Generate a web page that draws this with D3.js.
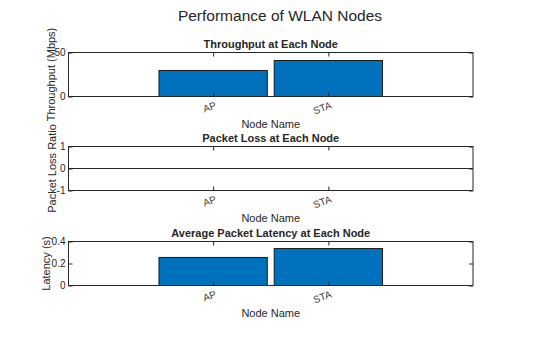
<!DOCTYPE html>
<html>
<head>
<meta charset="utf-8">
<script src="https://cdn.jsdelivr.net/npm/d3@7"></script>
<style>
  html, body { margin: 0; padding: 0; background: #fff; }
  svg { display: block; font-family: "Liberation Sans", Arial, Helvetica, sans-serif; }
</style>
</head>
<body>
<svg id="chart" width="560" height="337"></svg>
<script>
// Node names and per-node measurements
const nodes = ["AP", "STA"];
const throughput = [29.6, 40.9];     // Mbps
const packetLoss = [0, 0];           // ratio
const latency = [0.255, 0.336];      // seconds

const throughputTicks = [0, 50];
const packetLossTicks = [-1, 0, 1];
const latencyTicks = [0, 0.2, 0.4];

const svg = d3.select("#chart");
const axisColor = "#262626";
const barColor = "#0072BD";

const left = 68.5, right = 473;
// categorical positions 1..n on a numeric axis
const x = d3.scaleLinear().domain([-0.255, 3.255]).range([left, right]);
const barW = 0.94;

svg.append("text")
  .attr("x", 280).attr("y", 21)
  .attr("text-anchor", "middle")
  .attr("font-size", 15.5).attr("fill", axisColor)
  .text("Performance of WLAN Nodes");

function panel(opts) {
  const { top, bottom, domain, ticks, values, title, ylabel, ylabelX, fmt } = opts;
  const g = svg.append("g");
  const y = d3.scaleLinear().domain(domain).range([bottom, top]);

  // bars
  g.selectAll("rect.bar").data(values).join("rect")
    .attr("class", "bar")
    .attr("x", (d, i) => x(i + 1 - barW / 2))
    .attr("width", (d, i) => x(i + 1 + barW / 2) - x(i + 1 - barW / 2))
    .attr("y", d => Math.min(y(d), y(0)))
    .attr("height", d => Math.abs(y(0) - y(d)))
    .attr("fill", barColor)
    .attr("stroke", "#1a1a1a").attr("stroke-width", 1);

  // baseline
  g.append("line")
    .attr("x1", left).attr("x2", right)
    .attr("y1", y(0)).attr("y2", y(0))
    .attr("stroke", axisColor).attr("stroke-width", 1);

  // box
  g.append("rect")
    .attr("x", left).attr("y", top)
    .attr("width", right - left).attr("height", bottom - top)
    .attr("fill", "none").attr("stroke", axisColor).attr("stroke-width", 1);

  // y axis (ticks inward) on both sides
  const yl = g.append("g").attr("transform", `translate(${left},0)`)
    .call(d3.axisRight(y).tickValues(ticks).tickSize(4).tickFormat(""));
  const yr = g.append("g").attr("transform", `translate(${right},0)`)
    .call(d3.axisLeft(y).tickValues(ticks).tickSize(4).tickFormat(""));
  [yl, yr].forEach(a => {
    a.select(".domain").remove();
    a.selectAll("line").attr("stroke", axisColor);
  });
  g.selectAll("text.yt").data(ticks).join("text")
    .attr("class", "yt")
    .attr("x", left - 3).attr("y", d => y(d) + 3.5)
    .attr("text-anchor", "end").attr("font-size", 10).attr("fill", axisColor)
    .text(fmt);

  // x axis ticks inward top and bottom
  const cats = nodes.map((n, i) => i + 1);
  const xb = g.append("g").attr("transform", `translate(0,${bottom})`)
    .call(d3.axisTop(x).tickValues(cats).tickSize(4).tickFormat(""));
  const xt = g.append("g").attr("transform", `translate(0,${top})`)
    .call(d3.axisBottom(x).tickValues(cats).tickSize(4).tickFormat(""));
  [xb, xt].forEach(a => {
    a.select(".domain").remove();
    a.selectAll("line").attr("stroke", axisColor);
  });

  // rotated category labels
  g.selectAll("text.xt").data(nodes).join("text")
    .attr("class", "xt")
    .attr("transform", (d, i) => `translate(${x(i + 1) + 4},${bottom + 11.5}) rotate(-20)`)
    .attr("text-anchor", "end").attr("font-size", 10).attr("fill", "#404040")
    .text(d => d);

  g.append("text")
    .attr("x", (left + right) / 2).attr("y", bottom + 31)
    .attr("text-anchor", "middle").attr("font-size", 11).attr("fill", axisColor)
    .text("Node Name");

  g.append("text")
    .attr("x", (left + right) / 2).attr("y", top - 5)
    .attr("text-anchor", "middle").attr("font-size", 11).attr("font-weight", "bold")
    .attr("fill", axisColor)
    .text(title);

  g.append("text")
    .attr("transform", `translate(${ylabelX},${(top + bottom) / 2}) rotate(-90)`)
    .attr("text-anchor", "middle").attr("font-size", 11).attr("fill", axisColor)
    .text(ylabel);
}

panel({ top: 52.5, bottom: 96.5, domain: [0, 50], ticks: throughputTicks,
        values: throughput, title: "Throughput at Each Node",
        ylabel: "Throughput (Mbps)", ylabelX: 55, fmt: d => d });
panel({ top: 146.5, bottom: 190.5, domain: [-1, 1], ticks: packetLossTicks,
        values: packetLoss, title: "Packet Loss at Each Node",
        ylabel: "Packet Loss Ratio", ylabelX: 56, fmt: d => d });
panel({ top: 241.5, bottom: 285.5, domain: [0, 0.4], ticks: latencyTicks,
        values: latency, title: "Average Packet Latency at Each Node",
        ylabel: "Latency (s)", ylabelX: 50, fmt: d => d === 0 ? "0" : d.toFixed(1) });
</script>
</body>
</html>
